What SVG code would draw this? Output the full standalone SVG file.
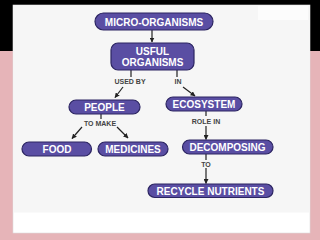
<svg xmlns="http://www.w3.org/2000/svg" width="320" height="240" viewBox="0 0 320 240">
<defs>
<marker id="ah" viewBox="0 0 10 10" refX="9" refY="5" markerWidth="5" markerHeight="5" orient="auto" markerUnits="userSpaceOnUse">
<path d="M0,0 L10,5 L0,10 z" fill="#222"/>
</marker>
<style>
.node rect{fill:#5a4ea3;stroke:#2c2562;stroke-width:1.2}
.node text{fill:#fff;font-family:"Liberation Sans",Arial,sans-serif;font-weight:bold;font-size:10px;text-anchor:middle}
.lbl{fill:#444;font-family:"Liberation Sans",Arial,sans-serif;font-weight:bold;font-size:7px;text-anchor:middle}
.edge{stroke:#222;stroke-width:1.2;fill:none}
</style>
</defs>
<rect x="0" y="0" width="320" height="240" fill="#e6b4b8"/>
<rect x="0" y="0" width="320" height="51" fill="#000"/>
<rect x="13" y="5" width="297" height="228" fill="#ffffff" stroke="#dcdcdc" stroke-width="0.6"/>
<rect x="13.5" y="5.5" width="296" height="207" fill="#f6f6f6"/>
<rect x="258" y="6" width="50" height="14" fill="#fcfcfc"/>
<g id="connectors">
<line class="edge" x1="152" y1="30" x2="152" y2="42" marker-end="url(#ah)"/>
<line class="edge" x1="131" y1="70" x2="131" y2="77"/>
<line class="edge" x1="177" y1="70" x2="177" y2="77"/>
<text class="lbl" x="130" y="83.5">USED BY</text>
<text class="lbl" x="178" y="83.5">IN</text>
<line class="edge" x1="123" y1="87" x2="115" y2="97.5" marker-end="url(#ah)"/>
<line class="edge" x1="183" y1="87" x2="195" y2="96" marker-end="url(#ah)"/>
<line class="edge" x1="101" y1="114" x2="101" y2="119"/>
<text class="lbl" x="100" y="125.5">TO MAKE</text>
<line class="edge" x1="82" y1="127" x2="72" y2="138.5" marker-end="url(#ah)"/>
<line class="edge" x1="117" y1="127" x2="128" y2="138" marker-end="url(#ah)"/>
<line class="edge" x1="206" y1="111" x2="206" y2="116"/>
<text class="lbl" x="206" y="123.5">ROLE IN</text>
<line class="edge" x1="206" y1="126" x2="206" y2="139.5" marker-end="url(#ah)"/>
<line class="edge" x1="206" y1="154" x2="206" y2="160"/>
<text class="lbl" x="206" y="167">TO</text>
<line class="edge" x1="206" y1="168" x2="206" y2="183.5" marker-end="url(#ah)"/>
</g>
<g id="n-micro" class="node"><rect x="95" y="13" width="118" height="17" rx="8.5"/><text x="154" y="25.5">MICRO-ORGANISMS</text></g>
<g id="n-usful" class="node"><rect x="111" y="43" width="83" height="27" rx="7"/><text x="152.5" y="55">USFUL</text><text x="152.5" y="66">ORGANISMS</text></g>
<g id="n-people" class="node"><rect x="69" y="100" width="71" height="14" rx="7"/><text x="104.5" y="110.5">PEOPLE</text></g>
<g id="n-eco" class="node"><rect x="166" y="97" width="76" height="14" rx="7"/><text x="204" y="107.5">ECOSYSTEM</text></g>
<g id="n-food" class="node"><rect x="22" y="142" width="69.5" height="14" rx="7"/><text x="57" y="152.5">FOOD</text></g>
<g id="n-med" class="node"><rect x="98" y="142" width="70" height="14" rx="7"/><text x="133" y="152.5">MEDICINES</text></g>
<g id="n-decomp" class="node"><rect x="182.5" y="140" width="90.5" height="14" rx="7"/><text x="227.5" y="150.5">DECOMPOSING</text></g>
<g id="n-recycle" class="node"><rect x="148" y="184" width="125" height="13.5" rx="6.75"/><text x="210.5" y="194.5">RECYCLE NUTRIENTS</text></g>
</svg>
